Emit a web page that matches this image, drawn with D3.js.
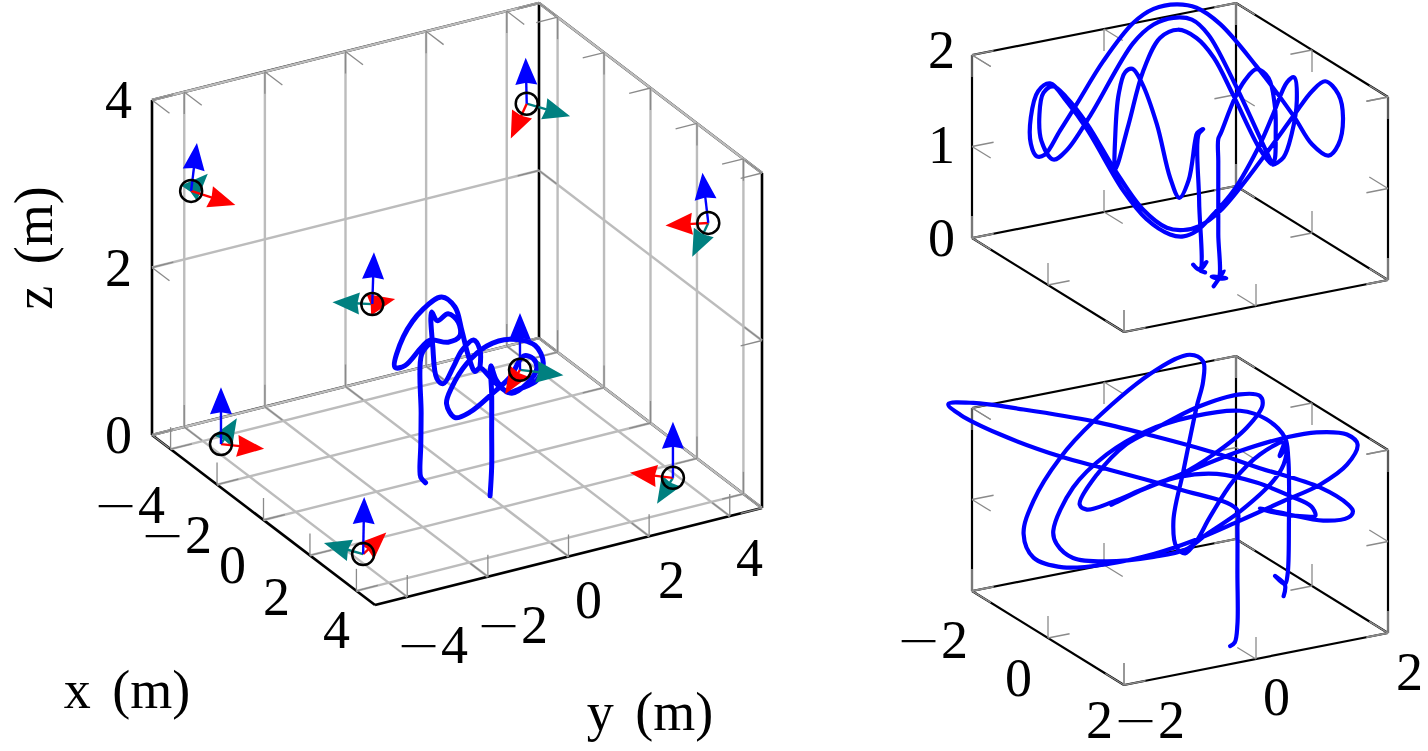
<!DOCTYPE html>
<html>
<head>
  <meta charset="utf-8">
  <script src="https://d3js.org/d3.v7.min.js"></script>
  <style>
    body { margin: 0; background: #fff; }
    text { font-family: "Liberation Serif", serif; fill: #000; }
  </style>
</head>
<body>
<div id="my_dataviz"></div>
<script>

// tick values
var bigTicks = [-4, -2, 0, 2, 4];
var bigZTicks = [0, 2, 4];
var smallTicks = [-2, 0, 2];
var smallZTicks = [0, 1, 2];

// frames of the big plot: position
var frameX = [-2.30, -2.43, 4.57, 4.44, -1.87, -1.90, 4.35, 4.29];
var frameY = [-5.27, 3.13, 3.60, -4.66, 2.64, -4.76, 2.85, -4.80];
var frameZ = [3.5, 3.5, 3.5, 3.5, 0.5, 0.5, 0.5, 0.5];
// body axes of each frame, as [dx, dy, dz]
var frameRed = [[1.07, 0.48, 0], [1.31, -1.15, 0], [-0.35, -0.86, 0], [0.03, 0.55, 0],
                [0.87, -0.87, 0], [0.66, 0.69, 0], [-0.67, -0.68, 0], [-0.67, 0.96, 0]];
var frameTeal = [[-0.55, 0.73, 0], [1.00, 0.50, 0], [1.27, -1.13, 0], [-0.50, -0.70, 0],
                 [0.69, 0.68, 0], [-0.93, 0.93, 0], [0.93, -0.93, 0], [-0.89, -0.46, 0]];
var frameBlue = [[0.06, 0.11, 0.57], [-0.01, -0.02, 0.55], [-0.06, -0.11, 0.60], [0.02, 0.03, 0.62],
                 [0, 0, 0.68], [0, 0, 0.68], [0, 0, 0.67], [0.01, 0.02, 0.68]];

// trajectories: depth can't be read off one view, so they are read in the plane x = 0
var trajX = 0;

var bigTrajY = [0.82, 0.86, 0.86, 0.86, 0.84, 0.98, 1.27, 1.56, 1.98, 2.14, 1.94, 1.32, 0.74, 0.24, -0.13, -0.26,
  -0.05, 0.32, 0.86, 1.32, 1.65, 1.89, 1.98, 1.73, 1.36, 1.07, 0.86, 0.57, 0.45, 0.28, 0.12, -0.05, -0.38, -0.84,
  -1.33, -1.54, -1.29, -0.88, -0.67, -0.22, 0.07, 0.03, -0.22, -0.49, -0.63, -0.60, -0.50, -0.34, -0.09, 0.12,
  0.41, 0.57, 0.57, null, -0.67, -0.88, -0.89, -0.90, -0.92, -0.90, -0.78];
var bigTrajZ = [-0.39, -0.05, 0.38, 0.82, 1.16, 0.97, 0.79, 0.80, 0.85, 1.04, 1.27, 1.42, 1.41, 1.26, 1.02, 0.84,
  0.65, 0.67, 0.82, 0.97, 1.18, 1.12, 0.99, 0.84, 0.77, 0.88, 1.00, 1.17, 1.14, 1.35, 1.67, 1.97, 2.13, 2.04,
  1.77, 1.43, 1.42, 1.59, 1.65, 1.57, 1.61, 1.78, 1.91, 1.86, 1.98, 1.56, 1.17, 1.09, 1.26, 1.43,
  1.52, 1.38, 1.18, null, 1.61, 1.50, 0.80, 0.40, 0.14, 0.04, -0.04];

var topTrajY = [0.51, 0.67, 0.58, 0.70, 0.48, 0.58, 0.58, 0.58, 0.58, 0.58, 0.62, 0.83, 0.98, 1.16, 1.34, 1.44, 1.45, 1.44, 1.41,
  1.57, 1.69, 1.77, 1.73, 1.62, 1.41, 1.21, 0.81, 0.51, 0.25, 0.05, -0.15, -0.51, -0.86, -1.41, -1.72, -1.97,
  -2.15, -2.26, -2.26, -2.17, -2.05, -1.82, -1.57, -1.16, -0.71, -0.40, -0.05, 0.25, 0.61, 1.16, 1.72, 2.00,
  2.25, 2.40, 2.47, 2.40, 2.20, 2.00, 1.72, 1.26, 0.61, 0.30, 0.05, -0.20, -0.56, -0.96, -1.41, -1.72, -1.92,
  -2.07, -2.13, -2.10, -1.92, -1.72, -1.36, -0.71, -0.40, -0.10, 0.18, 0.43, 0.81, 1.26, 1.39, 1.21, 0.81,
  0.51, 0.25, -0.03, -0.30, -0.56, -0.78, -0.98, -0.98, -0.93, -0.83, -0.72, -0.58, -0.35, -0.15, -0.01, 0.13,
  0.23, 0.26, 0.35, 0.28, 0.29, 0.30, 0.20, 0.30, 0.40, 0.30, 0.38];
var topTrajZ = [-0.37, -0.23, -0.29, -0.31, -0.26, -0.29, 0.19, 0.70, 0.99, 1.23, 1.29, 1.64, 1.81, 1.91, 1.79, 1.45, 1.16, 0.90, 0.83,
  0.89, 1.12, 1.48, 1.74, 1.70, 1.38, 1.08, 0.63, 0.42, 0.27, 0.24, 0.29, 0.51, 0.87, 1.62, 1.97, 2.20,
  2.14, 1.87, 1.58, 1.43, 1.43, 1.66, 1.91, 2.33, 2.68, 2.79, 2.79, 2.71, 2.48, 1.94, 1.32, 0.97,
  0.81, 0.91, 1.19, 1.46, 1.63, 1.55, 1.32, 0.93, 0.44, 0.32, 0.31, 0.37, 0.62, 1.08, 1.68, 2.01, 2.16,
  2.11, 1.88, 1.59, 1.36, 1.43, 1.76, 2.46, 2.62, 2.65, 2.59, 2.39, 1.83, 1.07, 0.84, 1.03, 1.67,
  2.13, 2.38, 2.51, 2.46, 2.13, 1.58, 1.12, 1.50, 1.93, 2.16, 2.18, 2.01, 1.52, 0.91, 0.67, 0.84,
  1.26, 1.34, 1.37, 1.32, 0.59, -0.16, -0.09, -0.16, -0.09, -0.16, -0.20];

var lowTrajY = [0.76, 0.83, 0.87, 0.87, 0.87, 0.86, 0, -1.11, -1.82, -2.73, -3.33, -3.51, -3.13, -2.37, -1.31, -0.40,
  0.51, 1.21, 2.12, 2.55, 2.62, 2.55, 2.17, 1.62, 1.21, 1.41, 1.87, 2.05, 1.99, 1.67, 1.16, 0.56, 0, -0.51, -1.01,
  -1.41, -1.52, -1.26, -0.81, -0.40, 0.25, 0.91, 1.21, 1.25, 1.01, 0.51, 0, -0.40, -1.04, -0.61, 0, 0.91, 1.62,
  2.07, 2.53, 2.69, 2.53, 2.12, 1.57, 0.91, 0.20, -0.40, -1.11, -1.77, -2.22, -2.37, -2.22, -1.82, -1.31, -0.35,
  0.15, 0.35, 0.35, 0.25, 0.05, -0.10, -0.05, 0.08, 0.25, 0.45, 0.81, 1.21, 1.57, 1.51, 1.62, 1.57, 1.41, 0.91,
  0.40, 0.08, -0.40, -1.11, -1.62, -1.87, -1.92, -1.62, -1.11, -0.51, 0.20, 0.91, 1.31, 1.59, 1.64, 1.65, 1.63,
  1.59, 1.44, 1.59, 1.57];
var lowTrajZ = [-0.48, -0.45, -0.26, 0.29, 0.80, 1.00, 1.34, 1.72, 1.96, 2.33, 2.63, 2.77, 2.73, 2.55, 2.27, 1.98,
  1.67, 1.40, 1.06, 0.81, 0.73, 0.67, 0.69, 0.84, 0.96, 0.89, 0.78, 0.76, 0.87, 1.03, 1.25, 1.43, 1.48, 1.43, 1.35,
  1.32, 1.39, 1.68, 1.95, 2.05, 2.20, 2.25, 2.19, 2.08, 1.87, 1.65, 1.50, 1.45, 1.32, 1.41, 1.50, 1.63, 1.68,
  1.67, 1.58, 1.45, 1.25, 1.09, 0.99, 0.87, 0.75, 0.69, 0.68, 0.74, 0.91, 1.19, 1.53, 1.94, 2.27, 2.70,
  2.79, 2.69, 2.47, 2.20, 1.53, 1.01, 0.71, 0.63, 0.74, 0.97, 1.32, 1.55, 1.63, 1.49, 1.57, 1.39, 1.23, 0.97,
  0.79, 0.67, 0.66, 0.71, 0.82, 1.01, 1.16, 1.59, 1.88, 2.05, 2.11, 2.07, 1.92, 1.68, 1.45, 0.72, 0.18,
  0.08, 0.19, 0.07, -0.05];

// layout of the three boxes
var bigBox = { ox: 152, oy: 435, xVec: [223, 170], yVec: [387, -97], h: 335,
  xDomain: [-4.8, 4.8], yDomain: [-4.8, 4.8], zDomain: [0, 4], xTicks: bigTicks, yTicks: bigTicks, zTicks: bigZTicks, grid: true };
var topBox = { ox: 972, oy: 238, xVec: [152, 94], yVec: [264, -52], h: 183,
  xDomain: [-2, 2], yDomain: [-2, 2], zDomain: [0, 2], xTicks: smallTicks, yTicks: smallTicks, zTicks: smallZTicks, grid: false };
var lowBox = { ox: 972, oy: 591, xVec: [152, 94], yVec: [264, -52], h: 183,
  xDomain: [-2, 2], yDomain: [-2, 2], zDomain: [0, 2], xTicks: smallTicks, yTicks: smallTicks, zTicks: smallZTicks, grid: false };

var svg = d3.select("#my_dataviz")
  .append("svg")
    .attr("width", 1428)
    .attr("height", 751);

var tickLen = 22;
var fontSize = 54;
var gridColor = "#bcbcbc";
var tickColor = "#8a8a8a";

function makeProjection(c) {
  var xToPx = d3.scaleLinear().domain(c.xDomain).range([0, c.xVec[0]]);
  var xToPy = d3.scaleLinear().domain(c.xDomain).range([0, c.xVec[1]]);
  var yToPx = d3.scaleLinear().domain(c.yDomain).range([0, c.yVec[0]]);
  var yToPy = d3.scaleLinear().domain(c.yDomain).range([0, c.yVec[1]]);
  var zToPy = d3.scaleLinear().domain(c.zDomain).range([0, -c.h]);
  return function(x, y, z) {
    return [c.ox + xToPx(x) + yToPx(y), c.oy + xToPy(x) + yToPy(y) + zToPy(z)];
  };
}

function segment(g, a, b, color, width) {
  g.append("line")
    .attr("x1", a[0]).attr("y1", a[1])
    .attr("x2", b[0]).attr("y2", b[1])
    .attr("stroke", color)
    .attr("stroke-width", width);
}

// short tick from point a, towards point b
function tick(g, a, b) {
  var dx = b[0] - a[0], dy = b[1] - a[1];
  var len = Math.sqrt(dx * dx + dy * dy);
  segment(g, a, [a[0] + dx / len * tickLen, a[1] + dy / len * tickLen], tickColor, 1.3);
}

function drawBox(c) {
  var p = makeProjection(c);
  var g = svg.append("g");
  var x0 = c.xDomain[0], x1 = c.xDomain[1];
  var y0 = c.yDomain[0], y1 = c.yDomain[1];
  var z0 = c.zDomain[0], z1 = c.zDomain[1];
  var lw = c.grid ? 2.6 : 2.2;

  // box lines
  [[x0, y0], [x0, y1], [x1, y1]].forEach(function(e) {
    segment(g, p(e[0], e[1], z0), p(e[0], e[1], z1), "#000", lw);
  });
  [z0, z1].forEach(function(z) {
    segment(g, p(x0, y0, z), p(x0, y1, z), "#000", lw);
    segment(g, p(x0, y1, z), p(x1, y1, z), "#000", lw);
  });
  segment(g, p(x0, y0, z0), p(x1, y0, z0), "#000", lw);
  segment(g, p(x1, y0, z0), p(x1, y1, z0), "#000", lw);

  // grid
  if (c.grid) {
    c.yTicks.forEach(function(v) {
      segment(g, p(x0, v, z0), p(x0, v, z1), gridColor, 2.4);
      segment(g, p(x0, v, z0), p(x1, v, z0), gridColor, 2.4);
    });
    c.xTicks.forEach(function(v) {
      segment(g, p(v, y1, z0), p(v, y1, z1), gridColor, 2.4);
      segment(g, p(v, y0, z0), p(v, y1, z0), gridColor, 2.4);
    });
    c.zTicks.forEach(function(v) {
      segment(g, p(x0, y0, v), p(x0, y1, v), gridColor, 2.4);
      segment(g, p(x0, y1, v), p(x1, y1, v), gridColor, 2.4);
    });
  }

  // ticks on the box edges
  c.yTicks.forEach(function(v) {
    tick(g, p(x0, v, z0), p(x0, v, z1)); tick(g, p(x0, v, z0), p(x1, v, z0));
    tick(g, p(x0, v, z1), p(x0, v, z0)); tick(g, p(x0, v, z1), p(x1, v, z1));
    tick(g, p(x1, v, z0), p(x1, v, z1)); tick(g, p(x1, v, z0), p(x0, v, z0));
  });
  c.xTicks.forEach(function(v) {
    tick(g, p(v, y1, z0), p(v, y1, z1)); tick(g, p(v, y1, z0), p(v, y0, z0));
    tick(g, p(v, y1, z1), p(v, y1, z0)); tick(g, p(v, y1, z1), p(v, y0, z1));
    tick(g, p(v, y0, z0), p(v, y0, z1)); tick(g, p(v, y0, z0), p(v, y1, z0));
  });
  c.zTicks.forEach(function(v) {
    tick(g, p(x0, y0, v), p(x1, y0, v)); tick(g, p(x0, y0, v), p(x0, y1, v));
    tick(g, p(x0, y1, v), p(x0, y0, v)); tick(g, p(x0, y1, v), p(x1, y1, v));
    tick(g, p(x1, y1, v), p(x0, y1, v)); tick(g, p(x1, y1, v), p(x1, y0, v));
  });
}

function drawTrajectory(c, ys, zs, width) {
  var p = makeProjection(c);
  var pts = ys.map(function(y, i) { return y === null ? null : p(trajX, y, zs[i]); });
  var line = d3.line()
    .defined(function(d) { return d !== null; })
    .curve(d3.curveCatmullRom.alpha(0.5));
  svg.append("path")
    .attr("d", line(pts))
    .attr("fill", "none")
    .attr("stroke", "#0000ff")
    .attr("stroke-width", width)
    .attr("stroke-linejoin", "round")
    .attr("stroke-linecap", "round");
}

// arrow with a latex-like head, tip at the end of the vector
function drawArrow(g, a, b, color) {
  var dx = b[0] - a[0], dy = b[1] - a[1];
  var len = Math.sqrt(dx * dx + dy * dy);
  var ux = dx / len, uy = dy / len;
  var headLen = 27, headHalf = 11;
  var bx = b[0] - ux * headLen, by = b[1] - uy * headLen;
  segment(g, a, [b[0] - ux * 22, b[1] - uy * 22], color, 2.4);
  g.append("path")
    .attr("d", d3.line()([
      b,
      [bx - uy * headHalf, by + ux * headHalf],
      [bx + ux * 2, by + uy * 2],
      [bx + uy * headHalf, by - ux * headHalf]
    ]) + "Z")
    .attr("fill", color);
}

function drawFrames(c) {
  var p = makeProjection(c);
  var g = svg.append("g");
  frameX.forEach(function(x, i) {
    var y = frameY[i], z = frameZ[i];
    var o = p(x, y, z);
    var tip = function(v) { return p(x + v[0], y + v[1], z + v[2]); };
    drawArrow(g, o, tip(frameTeal[i]), "#008080");
    drawArrow(g, o, tip(frameRed[i]), "#ff0000");
    drawArrow(g, o, tip(frameBlue[i]), "#0000ff");
    g.append("circle")
      .attr("cx", o[0]).attr("cy", o[1]).attr("r", 11)
      .attr("fill", "none")
      .attr("stroke", "#000")
      .attr("stroke-width", 2.5);
  });
}

// tick labels: right edge of the text, vertical centre
function tickLabels(values, rights, middles) {
  var g = svg.append("g")
    .style("font-size", fontSize + "px")
    .attr("text-anchor", "end");
  values.forEach(function(v, i) {
    var t = g.append("text")
      .attr("x", rights[i])
      .attr("y", middles[i] + fontSize * 0.33);
    // the serif minus is too short, this one is as wide as in the picture
    if (v < 0) {
      t.append("tspan").style("font-family", "'DejaVu Sans'").style("font-weight", 200).text("\u2212");
    }
    t.append("tspan").text(Math.abs(v));
  });
}

function axisLabel(txt, x, y, rotate) {
  svg.append("text")
    .attr("transform", "translate(" + x + "," + y + ")" + (rotate ? " rotate(-90)" : ""))
    .attr("text-anchor", "middle")
    .style("font-size", fontSize + "px")
    .style("word-spacing", "8px")
    .text(txt);
}

drawBox(bigBox);
drawBox(topBox);
drawBox(lowBox);

drawTrajectory(bigBox, bigTrajY, bigTrajZ, 5);
drawTrajectory(topBox, topTrajY, topTrajZ, 4.2);
drawTrajectory(lowBox, lowTrajY, lowTrajZ, 4.2);

drawFrames(bigBox);

tickLabels(bigZTicks.slice().reverse(), [132, 132, 132], [100, 268, 435]);
tickLabels(bigTicks, [165, 212, 246, 290, 350], [505, 535, 565, 597, 630]);
tickLabels(bigTicks, [468, 548, 602, 685, 763], [645, 625, 600, 580, 558]);
tickLabels(smallZTicks.slice().reverse(), [955, 955, 955], [50, 145, 238]);
tickLabels(smallTicks, [968, 1032, 1113], [640, 678, 720]);
tickLabels(smallTicks, [1185, 1290, 1423], [720, 697, 672]);

axisLabel("z (m)", 52, 248, true);
axisLabel("x (m)", 127, 708, false);
axisLabel("y (m)", 650, 730, false);

</script>
</body>
</html>
